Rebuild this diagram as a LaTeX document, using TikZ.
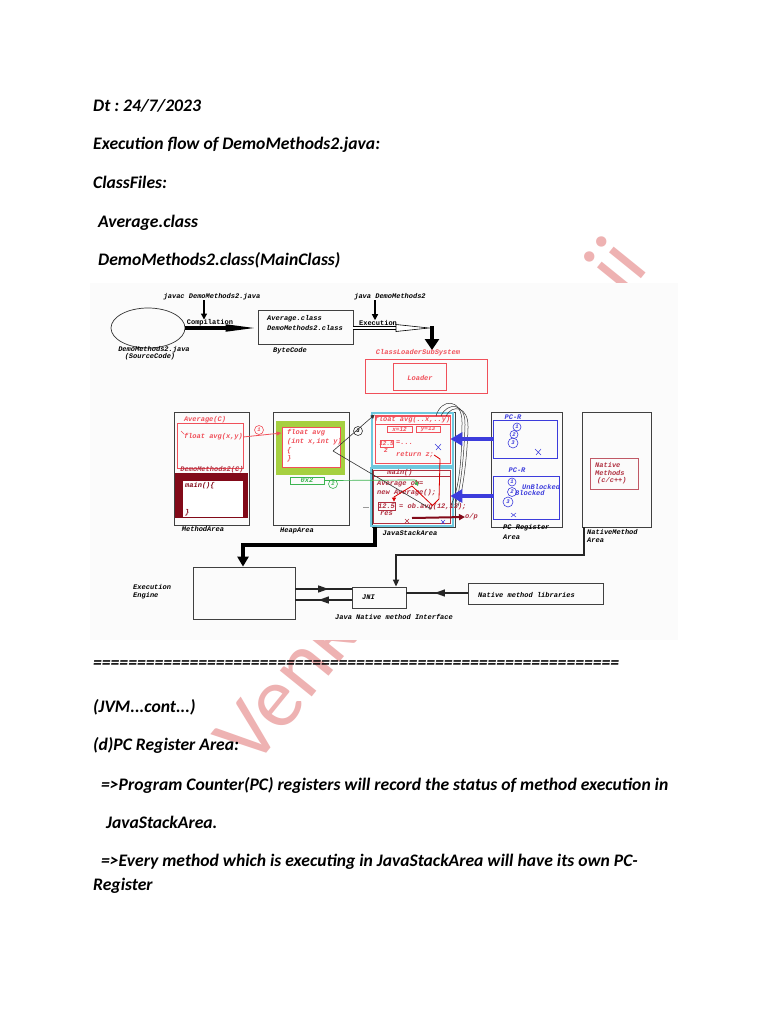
\documentclass[tikz,border=0pt]{standalone}
\usepackage{fontspec}
\setmainfont{Carlito}
\newfontfamily\cour{Liberation Mono}
\usetikzlibrary{shapes.geometric, arrows.meta, decorations.markings, calc, fit}
\frenchspacing
\definecolor{lred}{RGB}{240,80,90}
\definecolor{dred}{RGB}{176,48,64}
\definecolor{mroon}{RGB}{130,10,25}
\definecolor{ygreen}{RGB}{166,208,64}
\definecolor{gline}{RGB}{60,180,80}
\definecolor{lblue}{RGB}{110,200,222}
\definecolor{pblue}{RGB}{60,60,220}
\definecolor{wmpink}{RGB}{238,178,178}
\definecolor{bgw}{RGB}{251,251,251}
\begin{document}
\begin{tikzpicture}[x=1pt,y=-1pt,
  hdr/.style={font=\fontsize{17.6}{20}\selectfont\bfseries\itshape, anchor=base west, inner sep=0},
  lbl/.style={font=\cour\bfseries\itshape\fontsize{7}{8}\selectfont, inner sep=0},
  lblu/.style={font=\cour\bfseries\fontsize{7}{8}\selectfont, inner sep=0},
  area/.style={draw=black!75, line width=0.9, inner sep=0},
  rbox/.style={draw=lred, line width=0.7, inner sep=0},
  bbox/.style={draw=pblue, line width=0.7, inner sep=0},
  cnum/.style={circle, draw, line width=0.6, inner sep=0, minimum size=9, font=\cour\bfseries\itshape\fontsize{5.5}{6}\selectfont},
  wm/.style={font=\fontsize{86}{90}\selectfont, text=wmpink, anchor=base west, inner sep=0, rotate=51},
  thickarr/.style={line width=2.6, black!85},
  midarr/.style={postaction={decorate, decoration={markings, mark=at position #1 with {\arrow{Triangle[length=11,width=6.5]}}}}},
]
\useasboundingbox (0,0) rectangle (768,1024);
\fill[white] (0,0) rectangle (768,1024);

% watermark (partly hidden by the diagram)
\node[wm] (wm1) at (253,770) {Venka};
\node[wm] (wm2) at (625,299) {ii};

% header text
\node[hdr] (h1) at (93,112) {Dt : 24/7/2023};
\node[hdr] (h2) at (93,150) {Execution flow of DemoMethods2.java:};
\node[hdr] (h3) at (93,189) {ClassFiles:};
\node[hdr] (h4) at (98,227) {Average.class};
\node[hdr] (h5) at (98,265) {DemoMethods2.class(MainClass)};

% diagram background
\fill[bgw] (90,283) rectangle (678,640);

% ---- top row
\node[draw=black!80, line width=0.7, ellipse, minimum width=74, minimum height=40] (src) at (148,328) {};
\node[lbl] (srcl1) at (154,350) {DemoMethods2.java};
\node[lbl] (srcl2) at (150,357) {(SourceCode)};
\node[lbl] (javac) at (212,297) {javac DemoMethods2.java};
\node[lblu] (comp) at (210,323) {Compilation};
\draw[line width=1.2, -{Triangle[length=6,width=6]}] (javac.south -| 204,0) -- (comp.north -| 204,0);
\node[area, line width=0.7, fit={(258,310) (353,344)}] (bc) {};
\node[lbl, anchor=west] (bct1) at (267,319) {Average.class};
\node[lbl, anchor=west] (bct2) at (267,328) {DemoMethods2.class};
\node[lbl] (bcl) at (290,351) {ByteCode};
\draw[line width=3.2, black, -{Triangle[length=32,width=6.5]}] (src.east) -- (bc.west |- src.east);

\node[lbl] (javar) at (390,297) {java DemoMethods2};
\node[lblu] (exe) at (378,323) {Execution};
\draw[line width=1.2, -{Triangle[length=6,width=6]}] (javar.south -| 375,0) -- (exe.north -| 375,0);
\coordinate (exs) at (396,328);
\coordinate (dn1) at (432,326);
\coordinate (dn2) at (432,350);
\draw[line width=0.6, double=white, double distance=2.2] (bc.east |- exs) -- (exs);
\draw[line width=0.6, fill=white] (396,324.5) -- (429,328) -- (396,331.5) -- cycle;
\draw[line width=4, -{Triangle[length=11,width=14]}] (dn1) -- (dn2);

\node[lbl, text=lred] (clsl) at (418,353) {ClassLoaderSubSystem};
\node[rbox, line width=0.9, fit={(365,359) (487,393)}] (cls) {};
\node[rbox, line width=0.9, fit={(393,363) (446,390)}] (ldr) {};
\node[lbl, text=lred] (ldrt) at (420,378) {Loader};

% ---- Method area
\node[area, fit={(174,412) (249,525)}] (ma) {};
\node[lbl, text=lred] (avgc) at (205,420) {Average(C)};
\node[rbox, fit={(177,423) (243,468)}] (avgr) {};
\node[lbl, text=lred] (favg) at (213.5,437) {float avg(x,y)};
\draw[lred, line width=0.5] (181,431) -- (184,434);
\node[lbl, text=dred] (dmc) at (212,470) {DemoMethods2(C)};
\fill[mroon] (175,473) rectangle (248,518);
\node[fill=white, inner sep=0, fit={(183,481) (243,517)}] (mainin) {};
\node[lbl, text=mroon, anchor=west] (mn1) at (185,486) {main()\{};
\node[lbl, text=mroon, anchor=west] (mn2) at (185,513) {\}};
\node[lbl] (mal) at (203,529) {MethodArea};

% ---- Heap area
\node[area, fit={(273,412) (349,525)}] (ha) {};
\fill[ygreen] (276,421) rectangle (345,475);
\node[rbox, line width=1, fill=white, fit={(282,427) (340,467)}] (hobj) {};
\node[lbl, text=lred, anchor=west] (ht1) at (287,433) {float avg};
\node[lbl, text=lred, anchor=west] (ht2) at (287,442) {(int x,int y)};
\node[lbl, text=lred, anchor=west] (ht3) at (287,451) {\{};
\node[lbl, text=lred, anchor=west] (ht4) at (287,459) {\}};
\node[draw=gline, line width=0.7, inner sep=0, fit={(290,477) (324,484)}] (ox) {};
\node[lbl, text=gline] (oxt) at (307,480.5) {0x2};
\node[lbl] (hal) at (297,531) {HeapArea};
\node[cnum, draw=lred, text=lred] (c1) at (259,430) {1};
\node[cnum, draw=gline, text=gline] (c2) at (333,484) {2};
\node[cnum, draw=black!80] (c3) at (358,431) {3};
\draw[lred, line width=0.8, -{Triangle[length=5,width=4]}] (favg.east) -- (hobj.west |- 0,433);
\coordinate (hp) at (333,451);

% ---- Java stack area
\node[area, fit={(372,412) (455,527)}] (jsa) {};
\draw[lblue, line width=2.6] (372,413) rectangle (453,466);
\draw[lblue, line width=2.6] (371,468) rectangle (453,526);
\node[rbox, fit={(375,415) (450,463)}] (avgf) {};
\node[rbox, fit={(375,416) (450,424)}] (avgt) {};
\node[lbl, text=lred] (avgtt) at (412.5,420) {float avg(..x,..y)};
\node[rbox, fit={(387,426) (412,432)}] (xb) {};
\node[lbl, text=lred, font=\cour\bfseries\itshape\fontsize{6}{7}\selectfont] at (xb) {x=12};
\node[rbox, fit={(416,426) (440,432)}] (yb) {};
\node[lbl, text=lred, font=\cour\bfseries\itshape\fontsize{6}{7}\selectfont] at (yb) {y=13};
\node[rbox, fit={(380,440) (393,447)}] (zb) {};
\node[lbl, text=lred, font=\cour\bfseries\itshape\fontsize{6}{7}\selectfont] at (zb) {12.5};
\node[lbl, text=lred, anchor=west] (zeq) at (396,443) {=...};
\node[lbl, text=lred] (zl) at (386,451) {z};
\node[lbl, text=lred] (ret) at (415,455) {return z;};
\draw[pblue, line width=0.5] (435,444) -- (441,450) (436,450) -- (441,444);

\node[draw=dred, line width=0.8, inner sep=0, fit={(373,470) (450,523)}] (mainf) {};
\node[draw=dred, line width=0.8, inner sep=0, fit={(373,470) (450,476)}] (maint) {};
\node[lbl, text=dred] (maintt) at (400,473) {main()};
\node[lbl, text=dred, anchor=west] (ob1) at (377,484) {Average ob=};
\node[lbl, text=dred, anchor=west] (ob2) at (377,493) {new Average();};
\node[draw=dred, line width=0.8, inner sep=0, fit={(378,502) (395,510)}] (resb) {};
\node[lbl, text=dred] at (resb) {12.5};
\node[lbl, text=dred] (resl) at (386.5,514) {res};
\node[lbl, text=dred, anchor=west] (call) at (399,507) {= ob.avg(12,13);};
\coordinate (op1) at (412,518);
\node[lbl, text=dred, anchor=west] (opl) at (465,517) {o/p};
\draw[mroon, line width=2, -{Triangle[length=6,width=6]}] (op1) -- (opl.west);
\draw[dred, line width=0.5] (405,519) -- (409,523) (405,523) -- (409,519);
\draw[pblue, line width=0.5] (441,520) -- (445,524) (441,524) -- (445,520);
\draw[black!40, line width=0.8] (363,507) -- (369,507);
\node[lbl] (jsal) at (410,533) {JavaStackArea};

% red flows in stack
\draw[red!85!black, line width=0.8] (ret.east) -- (440,459) -- (439,499) -- (432,506);
\draw[red!85!black, line width=0.8, -{Triangle[length=4,width=4]}] (432,505) -- (412,486) -- (394,497) -- (resb.north -| 394,0);

% green reference line
\draw[gline, line width=0.7, -{Triangle[length=4,width=4]}] (ox.east) -- (415,480) -- (418,486);
% black reference lines
\draw[black!80, line width=0.6, -{Triangle[length=4,width=4]}] (hp) -- (avgf.north west);
\draw[black!80, line width=0.6] (hp) -- (431,509);
% loops
\draw[black!80, line width=0.5] (436,416) .. controls (441,398) and (462,398) .. (462,422) .. controls (462,460) and (459,490) .. (451,505);
\draw[black!80, line width=0.5] (441,416) .. controls (447,402) and (466,402) .. (465,425) .. controls (464,460) and (460,492) .. (455,505);
\draw[black!80, line width=0.5] (446,416) .. controls (452,404) and (469,406) .. (468,428) .. controls (467,462) and (462,494) .. (458,506);

% ---- PC register area
\node[area, fit={(491,412) (562,527)}] (pca) {};
\node[lbl, text=pblue] (pcr1) at (513,417) {PC-R};
\node[bbox, fit={(493,420) (557,458)}] (pc1) {};
\node[cnum, draw=pblue, text=pblue, minimum size=8] (p11) at (517,427) {1};
\node[cnum, draw=pblue, text=pblue, minimum size=8] (p12) at (514,434.5) {2};
\node[cnum, draw=pblue, text=pblue, minimum size=10] (p13) at (513,443) {3};
\draw[pblue, line width=0.5] (535,449) -- (541,455) (536,455) -- (541,449);
\node[lbl, text=pblue] (pcr2) at (517,470) {PC-R};
\node[bbox, fit={(493,476) (559,519)}] (pc2) {};
\node[cnum, draw=pblue, text=pblue, minimum size=8] (p21) at (512,482) {1};
\node[cnum, draw=pblue, text=pblue, minimum size=9] (p22) at (512,492) {2};
\node[cnum, draw=pblue, text=pblue, minimum size=10] (p23) at (508,502) {3};
\node[lbl, text=pblue, anchor=west] (unb) at (522,487) {UnBlocked};
\node[lbl, text=pblue, anchor=west] (blk) at (515,493) {Blocked};
\draw[pblue, line width=0.5] (511,513) -- (516,517) (511,517) -- (516,513);
\node[lbl, anchor=west] (pcl1) at (503,528) {PC Register};
\node[lbl, anchor=west] (pcl2) at (503,537) {Area};
\draw[pblue, line width=4.5, -{Triangle[length=12,width=13]}] (pc1.west |- 0,439) -- (avgf.east |- 0,439);
\draw[pblue, line width=4.5, -{Triangle[length=12,width=13]}] (pc2.west |- 0,496) -- (mainf.east |- 0,496);

% ---- Native method area
\node[area, fit={(582,412) (651,527)}] (nma) {};
\node[draw=dred!80!white, line width=0.8, inner sep=0, fit={(590,458) (638,489)}] (nmr) {};
\node[lbl, text=dred, anchor=west] (nm1) at (595,465) {Native};
\node[lbl, text=dred, anchor=west] (nm2) at (595,473) {Methods};
\node[lbl, text=dred, anchor=west] (nm3) at (597,481) {(c/c++)};
\node[lbl, anchor=west] (nml1) at (587,532) {NativeMethod};
\node[lbl, anchor=west] (nml2) at (587,540) {Area};

% ---- bottom row
\node[area, line width=0.8, fit={(193,567) (295,619)}] (ee) {};
\node[lbl, anchor=west] (eel1) at (133,587) {Execution};
\node[lbl, anchor=west] (eel2) at (133,596) {Engine};
\node[area, line width=0.8, fit={(352,587) (406,608)}] (jni) {};
\node[lbl, anchor=west] (jnit) at (362,597) {JNI};
\node[lbl, anchor=west] (jnil) at (335,617) {Java Native method Interface};
\node[area, line width=0.8, fit={(468,583) (603,604)}] (nml) {};
\node[lbl, anchor=west] (nmlt) at (478,595) {Native method libraries};

\draw[line width=4, -{Triangle[length=10,width=11]}] (jsa.south -| 375,0) -- (375,545) -- (243,545) -- (ee.north -| 243,0);
\draw[thickarr, midarr=0.6] (ee.east |- 0,589) -- (jni.west |- 0,589);
\draw[thickarr, midarr=0.6] (jni.west |- 0,600) -- (ee.east |- 0,600);
\draw[thickarr, midarr=0.55] (nml.west |- 0,593) -- (jni.east |- 0,593);
\draw[line width=1.6, black!85, -{Triangle[length=7,width=6]}] (nma.south -| 584,0) -- (584,555) -- (396,555) -- (jni.north -| 396,0);

% bottom text
\node[hdr] (b1) at (93,668) {============================================================};
\node[hdr] (b2) at (93,712) {(JVM...cont...)};
\node[hdr] (b3) at (93,750) {(d)PC Register Area:};
\node[hdr] (b4) at (101,790) {=>Program Counter(PC) registers will record the status of method execution in};
\node[hdr] (b5) at (106,828) {JavaStackArea.};
\node[hdr] (b6) at (101,866) {=>Every method which is executing in JavaStackArea will have its own PC-};
\node[hdr] (b7) at (93,890) {Register};
\end{tikzpicture}
\end{document}
